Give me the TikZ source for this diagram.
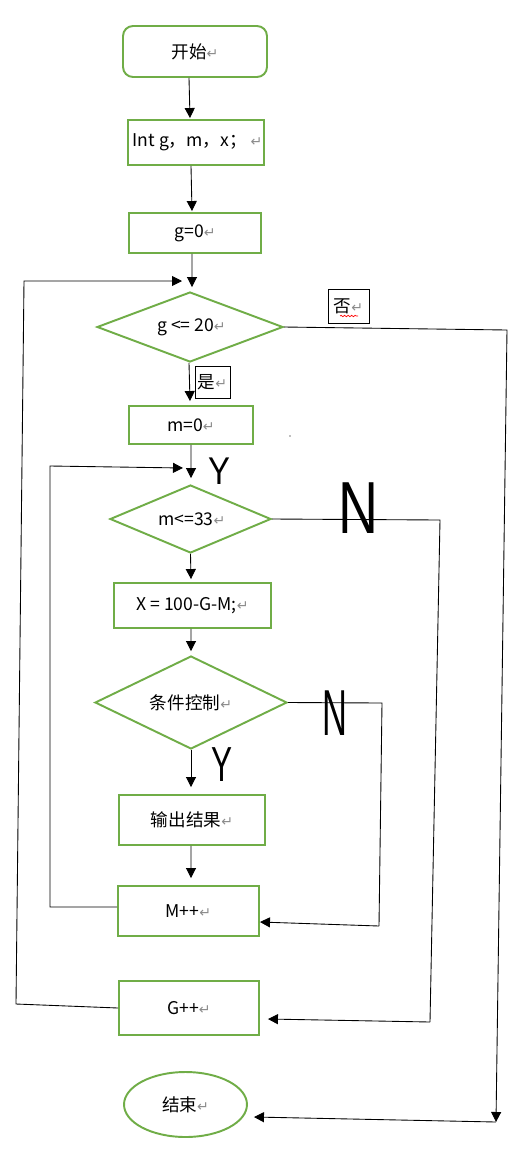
\documentclass[tikz,border=0pt]{standalone}
\usepackage{fontspec}
\setmainfont{Noto Sans CJK SC}
\newfontfamily\symfont{DejaVu Sans}
\newfontfamily\handfont{Liberation Sans}
\usetikzlibrary{shapes.geometric,arrows.meta,decorations.pathmorphing}
\definecolor{BoxGreen}{HTML}{70AD47}
\definecolor{MarkGray}{HTML}{8C8C8C}
\newcommand{\retmark}{{\symfont\color{MarkGray}\fontsize{8}{9}\selectfont ↵}}

\begin{document}
\begin{tikzpicture}[x=0.02cm,y=-0.02cm,font=\fontsize{10}{12}\selectfont,
  proc/.style={draw=BoxGreen,line width=1.1pt,inner sep=0pt},
  cond/.style={draw=BoxGreen,line width=1.1pt,diamond,inner sep=0pt},
  flow/.style={-{Triangle[length=2mm,width=2mm]},line width=0.5pt},
  link/.style={line width=0.5pt},
  tag/.style={draw,line width=0.5pt,inner sep=0pt},
  hand/.style={inner sep=0pt,font=\handfont}]
  \useasboundingbox[fill=white] (0,0) rectangle (518,1150);

  % main column
  \node[proc,rounded corners=0.2cm,minimum width=2.88cm,minimum height=1.02cm] (start) at (195,51.5) {开始\retmark};
  \node[proc,minimum width=2.72cm,minimum height=0.9cm] (decl) at (196,142.5) {\,Int g，m，x； \retmark};
  \node[proc,minimum width=2.64cm,minimum height=0.8cm] (ginit) at (195,233) {g=0\retmark};
  \node[cond,aspect=2.66,minimum width=3.72cm,minimum height=1.4cm] (gcheck) at (190,327) {\,g <= 20\retmark};
  \node[proc,minimum width=2.48cm,minimum height=0.76cm] (minit) at (191,425) {m=0\retmark};
  \node[cond,aspect=2.37,minimum width=3.22cm,minimum height=1.36cm] (mcheck) at (190.5,519) {\,m<=33\retmark};
  \node[proc,minimum width=3.14cm,minimum height=0.9cm] (calcx) at (192.5,605.5) {X = 100-G-M;\retmark};
  \node[cond,aspect=2.06,minimum width=3.84cm,minimum height=1.86cm] (test) at (191,702.5) {条件控制\retmark};
  \node[proc,minimum width=2.92cm,minimum height=1.0cm] (output) at (192,820) {输出结果\retmark};
  \node[proc,minimum width=2.82cm,minimum height=1.0cm] (minc) at (188.5,911) {M++\retmark};
  \node[proc,minimum width=2.8cm,minimum height=1.08cm] (ginc) at (189,1008) {G++\retmark};
  \node[proc,ellipse,minimum width=2.46cm,minimum height=1.3cm] (stop) at (185.5,1104.5) {结束\retmark};

  % branch labels
  \node[tag,minimum width=0.82cm,minimum height=0.68cm] (no) at (348.5,306.5) {否\retmark};
  \draw[red,line width=0.4pt,decorate,decoration={snake,amplitude=0.4pt,segment length=2pt}]
    ([shift={(-0.17cm,-0.19cm)}]no.center) -- ([shift={(0.19cm,-0.19cm)}]no.center);
  \node[tag,minimum width=0.7cm,minimum height=0.64cm] (yes) at (212.5,382) {是\retmark};
  \node[hand] (y1) at (219,471) {\scalebox{0.85}[1]{\fontsize{22}{22}\selectfont Y}};
  \node[hand] (n1) at (358,508) {\scalebox{0.75}[1]{\fontsize{42}{42}\selectfont N}};
  \node[hand] (n2) at (335,713) {\scalebox{0.53}[1]{\fontsize{37}{37}\selectfont N}};
  \node[hand] (y2) at (222,765) {\scalebox{0.64}[1]{\fontsize{28}{28}\selectfont Y}};
  \fill[gray] (290,436) circle (0.5pt);

  % bends
  \coordinate (gl1) at (16,1004);
  \coordinate (gl2) at (24,281);
  \coordinate (gl3) at (182,281);
  \coordinate (nr1) at (507,330);
  \coordinate (nr2) at (496,1122);
  \coordinate (ml1) at (50,907);
  \coordinate (ml2) at (50,466);
  \coordinate (ml3) at (183,468);
  \coordinate (mr1) at (440,520);
  \coordinate (mr2) at (430,1022);
  \coordinate (tr1) at (382,703);
  \coordinate (tr2) at (379,926);

  % straight arrows
  \draw[flow] ([xshift=-0.12cm]start.south) -- ([xshift=-0.12cm,yshift=0.02cm]decl.north);
  \draw[flow] ([xshift=-0.1cm]decl.south) -- ([xshift=-0.06cm,yshift=0.02cm]ginit.north);
  \draw[flow] ([xshift=-0.06cm]ginit.south) -- ([xshift=0.04cm,yshift=0.08cm]gcheck.north);
  \draw[flow] ([xshift=-0.02cm]gcheck.south) -- ([xshift=-0.02cm,yshift=0.08cm]minit.north);
  \draw[flow] (minit.south) -- ([xshift=0.01cm,yshift=0.12cm]mcheck.north);
  \draw[flow] (mcheck.south) -- ([xshift=-0.03cm,yshift=0.06cm]calcx.north);
  \draw[flow] ([xshift=-0.03cm]calcx.south) -- ([yshift=0.08cm]test.north);
  \draw[flow] (test.south) -- ([xshift=-0.02cm,yshift=0.14cm]output.north);
  \draw[flow] ([xshift=-0.02cm]output.south) -- ([xshift=0.05cm,yshift=0.14cm]minc.north);

  % loops and exits
  \draw[flow] (ginc.west) -- (gl1) -- (gl2) -- (gl3);
  \draw[flow] ([yshift=0.08cm]minc.west) -- (ml1) -- (ml2) -- (ml3);
  \draw[flow] (gcheck.east) -- (nr1) -- (nr2);
  \draw[flow] (nr2) -- ([shift={(0.12cm,-0.25cm)}]stop.east);
  \draw[link] (mcheck.east) -- (mr1) -- (mr2);
  \draw[flow] (mr2) -- ([shift={(0.16cm,-0.22cm)}]ginc.east);
  \draw[link] (test.east) -- (tr1) -- (tr2);
  \draw[flow] (tr2) -- ([yshift=-0.22cm]minc.east);
\end{tikzpicture}
\end{document}
